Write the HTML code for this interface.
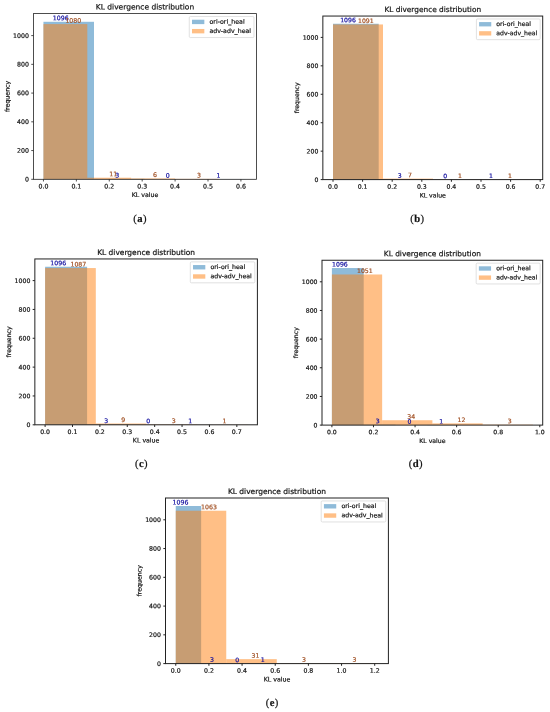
<!DOCTYPE html>
<html><head><meta charset="utf-8"><title>KL divergence distribution</title>
<style>
html,body{margin:0;padding:0;background:#fff}
svg{display:block}
text{font-family:"DejaVu Sans","Liberation Sans",sans-serif;fill:#111;stroke:#111;stroke-width:0.2px}
text.tb{fill:#0f0c9e;stroke:#0f0c9e}
text.to{fill:#a04f22;stroke:#a04f22}
text.cap{font-family:"Liberation Serif","DejaVu Serif",serif;font-size:10.6px;letter-spacing:0.4px;fill:#111;stroke:#111;stroke-width:0.2px}
</style></head><body>
<svg width="550" height="712" viewBox="0 0 550 712">
<rect width="550" height="712" fill="#fff"/>
<g class="pa">
<rect x="43.45" y="21.8" width="50.55" height="157.5" fill="#1f77b4" fill-opacity="0.5"/>
<rect x="94" y="178.87" width="50.55" height="0.43" fill="#1f77b4" fill-opacity="0.5"/>
<rect x="195.1" y="179.16" width="50.55" height="0.14" fill="#1f77b4" fill-opacity="0.5"/>
<rect x="43.45" y="24.1" width="43.85" height="155.2" fill="#ff7f0e" fill-opacity="0.5"/>
<rect x="87.3" y="177.72" width="43.85" height="1.58" fill="#ff7f0e" fill-opacity="0.5"/>
<rect x="131.15" y="178.44" width="43.85" height="0.86" fill="#ff7f0e" fill-opacity="0.5"/>
<rect x="175" y="178.87" width="43.85" height="0.43" fill="#ff7f0e" fill-opacity="0.5"/>
<rect x="33.45" y="13.6" width="223.1" height="165.7" fill="none" stroke="#222" stroke-width="0.8"/>
<line x1="43.45" y1="179.3" x2="43.45" y2="181.49" stroke="#222" stroke-width="0.8"/>
<text x="43.45" y="188.5" transform="rotate(0.04 43.45 188.5)" font-size="6.25" text-anchor="middle">0.0</text>
<line x1="76.36" y1="179.3" x2="76.36" y2="181.49" stroke="#222" stroke-width="0.8"/>
<text x="76.36" y="188.5" transform="rotate(0.04 76.36 188.5)" font-size="6.25" text-anchor="middle">0.1</text>
<line x1="109.27" y1="179.3" x2="109.27" y2="181.49" stroke="#222" stroke-width="0.8"/>
<text x="109.27" y="188.5" transform="rotate(0.04 109.27 188.5)" font-size="6.25" text-anchor="middle">0.2</text>
<line x1="142.18" y1="179.3" x2="142.18" y2="181.49" stroke="#222" stroke-width="0.8"/>
<text x="142.18" y="188.5" transform="rotate(0.04 142.18 188.5)" font-size="6.25" text-anchor="middle">0.3</text>
<line x1="175.09" y1="179.3" x2="175.09" y2="181.49" stroke="#222" stroke-width="0.8"/>
<text x="175.09" y="188.5" transform="rotate(0.04 175.09 188.5)" font-size="6.25" text-anchor="middle">0.4</text>
<line x1="208" y1="179.3" x2="208" y2="181.49" stroke="#222" stroke-width="0.8"/>
<text x="208" y="188.5" transform="rotate(0.04 208 188.5)" font-size="6.25" text-anchor="middle">0.5</text>
<line x1="240.91" y1="179.3" x2="240.91" y2="181.49" stroke="#222" stroke-width="0.8"/>
<text x="240.91" y="188.5" transform="rotate(0.04 240.91 188.5)" font-size="6.25" text-anchor="middle">0.6</text>
<line x1="33.45" y1="179.3" x2="31.26" y2="179.3" stroke="#222" stroke-width="0.8"/>
<text x="28.95" y="181.6" transform="rotate(0.04 28.95 181.6)" font-size="6.25" text-anchor="end">0</text>
<line x1="33.45" y1="150.56" x2="31.26" y2="150.56" stroke="#222" stroke-width="0.8"/>
<text x="28.95" y="152.86" transform="rotate(0.04 28.95 152.86)" font-size="6.25" text-anchor="end">200</text>
<line x1="33.45" y1="121.82" x2="31.26" y2="121.82" stroke="#222" stroke-width="0.8"/>
<text x="28.95" y="124.12" transform="rotate(0.04 28.95 124.12)" font-size="6.25" text-anchor="end">400</text>
<line x1="33.45" y1="93.08" x2="31.26" y2="93.08" stroke="#222" stroke-width="0.8"/>
<text x="28.95" y="95.38" transform="rotate(0.04 28.95 95.38)" font-size="6.25" text-anchor="end">600</text>
<line x1="33.45" y1="64.34" x2="31.26" y2="64.34" stroke="#222" stroke-width="0.8"/>
<text x="28.95" y="66.64" transform="rotate(0.04 28.95 66.64)" font-size="6.25" text-anchor="end">800</text>
<line x1="33.45" y1="35.6" x2="31.26" y2="35.6" stroke="#222" stroke-width="0.8"/>
<text x="28.95" y="37.9" transform="rotate(0.04 28.95 37.9)" font-size="6.25" text-anchor="end">1000</text>
<text x="145" y="197.1" transform="rotate(0.04 145 197.1)" font-size="6.25" text-anchor="middle">KL value</text>
<text transform="translate(9.55,96.45) rotate(-89.96)" font-size="6.25" text-anchor="middle">frequency</text>
<text x="145" y="9.6" transform="rotate(0.04 145 9.6)" font-size="7.5" text-anchor="middle">KL divergence distribution</text>
<text x="68.72" y="20.35" transform="rotate(0.04 68.72 20.35)" font-size="6.25" text-anchor="end" class="tb">1096</text>
<text x="119.27" y="177.42" transform="rotate(0.04 119.27 177.42)" font-size="6.25" text-anchor="end" class="tb">3</text>
<text x="169.82" y="177.85" transform="rotate(0.04 169.82 177.85)" font-size="6.25" text-anchor="end" class="tb">0</text>
<text x="220.38" y="177.71" transform="rotate(0.04 220.38 177.71)" font-size="6.25" text-anchor="end" class="tb">1</text>
<text x="65.38" y="22.65" transform="rotate(0.04 65.38 22.65)" font-size="6.25" class="to">1080</text>
<text x="109.23" y="176.27" transform="rotate(0.04 109.23 176.27)" font-size="6.25" class="to">11</text>
<text x="153.07" y="176.99" transform="rotate(0.04 153.07 176.99)" font-size="6.25" class="to">6</text>
<text x="196.93" y="177.42" transform="rotate(0.04 196.93 177.42)" font-size="6.25" class="to">3</text>
<rect x="189.28" y="16.53" width="64.69" height="21.02" rx="1.12" fill="#fff" fill-opacity="0.8" stroke="#ccc" stroke-width="0.6"/>
<rect x="192.01" y="19.72" width="12.33" height="4.4" fill="#8FBBD9"/>
<rect x="192.01" y="28.96" width="12.33" height="4.4" fill="#FFBF86"/>
<text x="209.5" y="23.7" transform="rotate(0.04 209.5 23.7)" font-size="6.25">ori-ori_heal</text>
<text x="209.5" y="32.99" transform="rotate(0.04 209.5 32.99)" font-size="6.25">adv-adv_heal</text>
<text class="cap" x="140.1" y="222" transform="rotate(0.04 140.1 222)" text-anchor="middle">(<tspan font-weight="bold">a</tspan>)</text>
</g>
<g class="pb">
<rect x="333" y="23.75" width="45.7" height="155.85" fill="#1f77b4" fill-opacity="0.5"/>
<rect x="378.7" y="179.17" width="45.7" height="0.43" fill="#1f77b4" fill-opacity="0.5"/>
<rect x="470.1" y="179.46" width="45.7" height="0.14" fill="#1f77b4" fill-opacity="0.5"/>
<rect x="333" y="24.46" width="50" height="155.14" fill="#ff7f0e" fill-opacity="0.5"/>
<rect x="383" y="178.6" width="50" height="1" fill="#ff7f0e" fill-opacity="0.5"/>
<rect x="433" y="179.46" width="50" height="0.14" fill="#ff7f0e" fill-opacity="0.5"/>
<rect x="483" y="179.46" width="50" height="0.14" fill="#ff7f0e" fill-opacity="0.5"/>
<rect x="322.85" y="16.05" width="219.85" height="163.55" fill="none" stroke="#222" stroke-width="1"/>
<line x1="333" y1="179.6" x2="333" y2="181.75" stroke="#222" stroke-width="1"/>
<text x="333" y="188.8" transform="rotate(0.04 333 188.8)" font-size="6.16" text-anchor="middle">0.0</text>
<line x1="362.6" y1="179.6" x2="362.6" y2="181.75" stroke="#222" stroke-width="1"/>
<text x="362.6" y="188.8" transform="rotate(0.04 362.6 188.8)" font-size="6.16" text-anchor="middle">0.1</text>
<line x1="392.2" y1="179.6" x2="392.2" y2="181.75" stroke="#222" stroke-width="1"/>
<text x="392.2" y="188.8" transform="rotate(0.04 392.2 188.8)" font-size="6.16" text-anchor="middle">0.2</text>
<line x1="421.8" y1="179.6" x2="421.8" y2="181.75" stroke="#222" stroke-width="1"/>
<text x="421.8" y="188.8" transform="rotate(0.04 421.8 188.8)" font-size="6.16" text-anchor="middle">0.3</text>
<line x1="451.4" y1="179.6" x2="451.4" y2="181.75" stroke="#222" stroke-width="1"/>
<text x="451.4" y="188.8" transform="rotate(0.04 451.4 188.8)" font-size="6.16" text-anchor="middle">0.4</text>
<line x1="481" y1="179.6" x2="481" y2="181.75" stroke="#222" stroke-width="1"/>
<text x="481" y="188.8" transform="rotate(0.04 481 188.8)" font-size="6.16" text-anchor="middle">0.5</text>
<line x1="510.6" y1="179.6" x2="510.6" y2="181.75" stroke="#222" stroke-width="1"/>
<text x="510.6" y="188.8" transform="rotate(0.04 510.6 188.8)" font-size="6.16" text-anchor="middle">0.6</text>
<line x1="540.2" y1="179.6" x2="540.2" y2="181.75" stroke="#222" stroke-width="1"/>
<text x="540.2" y="188.8" transform="rotate(0.04 540.2 188.8)" font-size="6.16" text-anchor="middle">0.7</text>
<line x1="322.85" y1="179.6" x2="320.7" y2="179.6" stroke="#222" stroke-width="1"/>
<text x="318.35" y="181.9" transform="rotate(0.04 318.35 181.9)" font-size="6.16" text-anchor="end">0</text>
<line x1="322.85" y1="151.16" x2="320.7" y2="151.16" stroke="#222" stroke-width="1"/>
<text x="318.35" y="153.46" transform="rotate(0.04 318.35 153.46)" font-size="6.16" text-anchor="end">200</text>
<line x1="322.85" y1="122.72" x2="320.7" y2="122.72" stroke="#222" stroke-width="1"/>
<text x="318.35" y="125.02" transform="rotate(0.04 318.35 125.02)" font-size="6.16" text-anchor="end">400</text>
<line x1="322.85" y1="94.28" x2="320.7" y2="94.28" stroke="#222" stroke-width="1"/>
<text x="318.35" y="96.58" transform="rotate(0.04 318.35 96.58)" font-size="6.16" text-anchor="end">600</text>
<line x1="322.85" y1="65.84" x2="320.7" y2="65.84" stroke="#222" stroke-width="1"/>
<text x="318.35" y="68.14" transform="rotate(0.04 318.35 68.14)" font-size="6.16" text-anchor="end">800</text>
<line x1="322.85" y1="37.4" x2="320.7" y2="37.4" stroke="#222" stroke-width="1"/>
<text x="318.35" y="39.7" transform="rotate(0.04 318.35 39.7)" font-size="6.16" text-anchor="end">1000</text>
<text x="432.78" y="197.4" transform="rotate(0.04 432.78 197.4)" font-size="6.16" text-anchor="middle">KL value</text>
<text transform="translate(298.95,97.83) rotate(-89.96)" font-size="6.16" text-anchor="middle">frequency</text>
<text x="432.78" y="12.05" transform="rotate(0.04 432.78 12.05)" font-size="7.39" text-anchor="middle">KL divergence distribution</text>
<text x="355.85" y="22.3" transform="rotate(0.04 355.85 22.3)" font-size="6.16" text-anchor="end" class="tb">1096</text>
<text x="401.55" y="177.72" transform="rotate(0.04 401.55 177.72)" font-size="6.16" text-anchor="end" class="tb">3</text>
<text x="447.25" y="178.15" transform="rotate(0.04 447.25 178.15)" font-size="6.16" text-anchor="end" class="tb">0</text>
<text x="492.95" y="178.01" transform="rotate(0.04 492.95 178.01)" font-size="6.16" text-anchor="end" class="tb">1</text>
<text x="358" y="23.01" transform="rotate(0.04 358 23.01)" font-size="6.16" class="to">1091</text>
<text x="408" y="177.15" transform="rotate(0.04 408 177.15)" font-size="6.16" class="to">7</text>
<text x="458" y="178.01" transform="rotate(0.04 458 178.01)" font-size="6.16" class="to">1</text>
<text x="508" y="178.01" transform="rotate(0.04 508 178.01)" font-size="6.16" class="to">1</text>
<rect x="476.41" y="18.94" width="63.75" height="20.72" rx="1.11" fill="#fff" fill-opacity="0.8" stroke="#ccc" stroke-width="0.59"/>
<rect x="479.1" y="22.08" width="12.15" height="4.33" fill="#8FBBD9"/>
<rect x="479.1" y="31.19" width="12.15" height="4.33" fill="#FFBF86"/>
<text x="496.33" y="26" transform="rotate(0.04 496.33 26)" font-size="6.16">ori-ori_heal</text>
<text x="496.33" y="35.16" transform="rotate(0.04 496.33 35.16)" font-size="6.16">adv-adv_heal</text>
<text class="cap" x="417.3" y="222" transform="rotate(0.04 417.3 222)" text-anchor="middle">(<tspan font-weight="bold">b</tspan>)</text>
</g>
<g class="pc">
<rect x="45.1" y="266.76" width="42" height="158.04" fill="#1f77b4" fill-opacity="0.5"/>
<rect x="87.1" y="424.37" width="42" height="0.43" fill="#1f77b4" fill-opacity="0.5"/>
<rect x="171.1" y="424.66" width="42" height="0.14" fill="#1f77b4" fill-opacity="0.5"/>
<rect x="45.1" y="268.05" width="50.7" height="156.75" fill="#ff7f0e" fill-opacity="0.5"/>
<rect x="95.8" y="423.5" width="50.7" height="1.3" fill="#ff7f0e" fill-opacity="0.5"/>
<rect x="146.5" y="424.37" width="50.7" height="0.43" fill="#ff7f0e" fill-opacity="0.5"/>
<rect x="197.2" y="424.66" width="50.7" height="0.14" fill="#ff7f0e" fill-opacity="0.5"/>
<rect x="34.85" y="258.95" width="222.55" height="165.85" fill="none" stroke="#222" stroke-width="1"/>
<line x1="45.1" y1="424.8" x2="45.1" y2="426.98" stroke="#222" stroke-width="1"/>
<text x="45.1" y="434" transform="rotate(0.04 45.1 434)" font-size="6.23" text-anchor="middle">0.0</text>
<line x1="72.49" y1="424.8" x2="72.49" y2="426.98" stroke="#222" stroke-width="1"/>
<text x="72.49" y="434" transform="rotate(0.04 72.49 434)" font-size="6.23" text-anchor="middle">0.1</text>
<line x1="99.88" y1="424.8" x2="99.88" y2="426.98" stroke="#222" stroke-width="1"/>
<text x="99.88" y="434" transform="rotate(0.04 99.88 434)" font-size="6.23" text-anchor="middle">0.2</text>
<line x1="127.27" y1="424.8" x2="127.27" y2="426.98" stroke="#222" stroke-width="1"/>
<text x="127.27" y="434" transform="rotate(0.04 127.27 434)" font-size="6.23" text-anchor="middle">0.3</text>
<line x1="154.66" y1="424.8" x2="154.66" y2="426.98" stroke="#222" stroke-width="1"/>
<text x="154.66" y="434" transform="rotate(0.04 154.66 434)" font-size="6.23" text-anchor="middle">0.4</text>
<line x1="182.05" y1="424.8" x2="182.05" y2="426.98" stroke="#222" stroke-width="1"/>
<text x="182.05" y="434" transform="rotate(0.04 182.05 434)" font-size="6.23" text-anchor="middle">0.5</text>
<line x1="209.44" y1="424.8" x2="209.44" y2="426.98" stroke="#222" stroke-width="1"/>
<text x="209.44" y="434" transform="rotate(0.04 209.44 434)" font-size="6.23" text-anchor="middle">0.6</text>
<line x1="236.83" y1="424.8" x2="236.83" y2="426.98" stroke="#222" stroke-width="1"/>
<text x="236.83" y="434" transform="rotate(0.04 236.83 434)" font-size="6.23" text-anchor="middle">0.7</text>
<line x1="34.85" y1="424.8" x2="32.67" y2="424.8" stroke="#222" stroke-width="1"/>
<text x="30.35" y="427.1" transform="rotate(0.04 30.35 427.1)" font-size="6.23" text-anchor="end">0</text>
<line x1="34.85" y1="395.96" x2="32.67" y2="395.96" stroke="#222" stroke-width="1"/>
<text x="30.35" y="398.26" transform="rotate(0.04 30.35 398.26)" font-size="6.23" text-anchor="end">200</text>
<line x1="34.85" y1="367.12" x2="32.67" y2="367.12" stroke="#222" stroke-width="1"/>
<text x="30.35" y="369.42" transform="rotate(0.04 30.35 369.42)" font-size="6.23" text-anchor="end">400</text>
<line x1="34.85" y1="338.28" x2="32.67" y2="338.28" stroke="#222" stroke-width="1"/>
<text x="30.35" y="340.58" transform="rotate(0.04 30.35 340.58)" font-size="6.23" text-anchor="end">600</text>
<line x1="34.85" y1="309.44" x2="32.67" y2="309.44" stroke="#222" stroke-width="1"/>
<text x="30.35" y="311.74" transform="rotate(0.04 30.35 311.74)" font-size="6.23" text-anchor="end">800</text>
<line x1="34.85" y1="280.6" x2="32.67" y2="280.6" stroke="#222" stroke-width="1"/>
<text x="30.35" y="282.9" transform="rotate(0.04 30.35 282.9)" font-size="6.23" text-anchor="end">1000</text>
<text x="146.12" y="442.6" transform="rotate(0.04 146.12 442.6)" font-size="6.23" text-anchor="middle">KL value</text>
<text transform="translate(10.95,341.88) rotate(-89.96)" font-size="6.23" text-anchor="middle">frequency</text>
<text x="146.12" y="254.95" transform="rotate(0.04 146.12 254.95)" font-size="7.48" text-anchor="middle">KL divergence distribution</text>
<text x="66.1" y="265.31" transform="rotate(0.04 66.1 265.31)" font-size="6.23" text-anchor="end" class="tb">1096</text>
<text x="108.1" y="422.92" transform="rotate(0.04 108.1 422.92)" font-size="6.23" text-anchor="end" class="tb">3</text>
<text x="150.1" y="423.35" transform="rotate(0.04 150.1 423.35)" font-size="6.23" text-anchor="end" class="tb">0</text>
<text x="192.1" y="423.21" transform="rotate(0.04 192.1 423.21)" font-size="6.23" text-anchor="end" class="tb">1</text>
<text x="70.45" y="266.6" transform="rotate(0.04 70.45 266.6)" font-size="6.23" class="to">1087</text>
<text x="121.15" y="422.05" transform="rotate(0.04 121.15 422.05)" font-size="6.23" class="to">9</text>
<text x="171.85" y="422.92" transform="rotate(0.04 171.85 422.92)" font-size="6.23" class="to">3</text>
<text x="222.55" y="423.21" transform="rotate(0.04 222.55 423.21)" font-size="6.23" class="to">1</text>
<rect x="190.3" y="261.87" width="64.53" height="20.97" rx="1.12" fill="#fff" fill-opacity="0.8" stroke="#ccc" stroke-width="0.6"/>
<rect x="193.02" y="265.05" width="12.3" height="4.39" fill="#8FBBD9"/>
<rect x="193.02" y="274.28" width="12.3" height="4.39" fill="#FFBF86"/>
<text x="210.46" y="269.02" transform="rotate(0.04 210.46 269.02)" font-size="6.23">ori-ori_heal</text>
<text x="210.46" y="278.29" transform="rotate(0.04 210.46 278.29)" font-size="6.23">adv-adv_heal</text>
<text class="cap" x="141.5" y="467" transform="rotate(0.04 141.5 467)" text-anchor="middle">(<tspan font-weight="bold">c</tspan>)</text>
</g>
<g class="pd">
<rect x="331.9" y="268.04" width="31.8" height="157.06" fill="#1f77b4" fill-opacity="0.5"/>
<rect x="363.7" y="424.67" width="31.8" height="0.43" fill="#1f77b4" fill-opacity="0.5"/>
<rect x="427.3" y="424.96" width="31.8" height="0.14" fill="#1f77b4" fill-opacity="0.5"/>
<rect x="331.9" y="274.49" width="50.25" height="150.61" fill="#ff7f0e" fill-opacity="0.5"/>
<rect x="382.15" y="420.23" width="50.25" height="4.87" fill="#ff7f0e" fill-opacity="0.5"/>
<rect x="432.4" y="423.38" width="50.25" height="1.72" fill="#ff7f0e" fill-opacity="0.5"/>
<rect x="482.65" y="424.67" width="50.25" height="0.43" fill="#ff7f0e" fill-opacity="0.5"/>
<rect x="322" y="260.25" width="220.7" height="164.85" fill="none" stroke="#222" stroke-width="1"/>
<line x1="331.9" y1="425.1" x2="331.9" y2="427.26" stroke="#222" stroke-width="1"/>
<text x="331.9" y="434.3" transform="rotate(0.04 331.9 434.3)" font-size="6.18" text-anchor="middle">0.0</text>
<line x1="373.48" y1="425.1" x2="373.48" y2="427.26" stroke="#222" stroke-width="1"/>
<text x="373.48" y="434.3" transform="rotate(0.04 373.48 434.3)" font-size="6.18" text-anchor="middle">0.2</text>
<line x1="415.06" y1="425.1" x2="415.06" y2="427.26" stroke="#222" stroke-width="1"/>
<text x="415.06" y="434.3" transform="rotate(0.04 415.06 434.3)" font-size="6.18" text-anchor="middle">0.4</text>
<line x1="456.64" y1="425.1" x2="456.64" y2="427.26" stroke="#222" stroke-width="1"/>
<text x="456.64" y="434.3" transform="rotate(0.04 456.64 434.3)" font-size="6.18" text-anchor="middle">0.6</text>
<line x1="498.22" y1="425.1" x2="498.22" y2="427.26" stroke="#222" stroke-width="1"/>
<text x="498.22" y="434.3" transform="rotate(0.04 498.22 434.3)" font-size="6.18" text-anchor="middle">0.8</text>
<line x1="539.8" y1="425.1" x2="539.8" y2="427.26" stroke="#222" stroke-width="1"/>
<text x="539.8" y="434.3" transform="rotate(0.04 539.8 434.3)" font-size="6.18" text-anchor="middle">1.0</text>
<line x1="322" y1="425.1" x2="319.84" y2="425.1" stroke="#222" stroke-width="1"/>
<text x="317.5" y="427.4" transform="rotate(0.04 317.5 427.4)" font-size="6.18" text-anchor="end">0</text>
<line x1="322" y1="396.44" x2="319.84" y2="396.44" stroke="#222" stroke-width="1"/>
<text x="317.5" y="398.74" transform="rotate(0.04 317.5 398.74)" font-size="6.18" text-anchor="end">200</text>
<line x1="322" y1="367.78" x2="319.84" y2="367.78" stroke="#222" stroke-width="1"/>
<text x="317.5" y="370.08" transform="rotate(0.04 317.5 370.08)" font-size="6.18" text-anchor="end">400</text>
<line x1="322" y1="339.12" x2="319.84" y2="339.12" stroke="#222" stroke-width="1"/>
<text x="317.5" y="341.42" transform="rotate(0.04 317.5 341.42)" font-size="6.18" text-anchor="end">600</text>
<line x1="322" y1="310.46" x2="319.84" y2="310.46" stroke="#222" stroke-width="1"/>
<text x="317.5" y="312.76" transform="rotate(0.04 317.5 312.76)" font-size="6.18" text-anchor="end">800</text>
<line x1="322" y1="281.8" x2="319.84" y2="281.8" stroke="#222" stroke-width="1"/>
<text x="317.5" y="284.1" transform="rotate(0.04 317.5 284.1)" font-size="6.18" text-anchor="end">1000</text>
<text x="432.35" y="442.9" transform="rotate(0.04 432.35 442.9)" font-size="6.18" text-anchor="middle">KL value</text>
<text transform="translate(298.1,342.68) rotate(-89.96)" font-size="6.18" text-anchor="middle">frequency</text>
<text x="432.35" y="256.25" transform="rotate(0.04 432.35 256.25)" font-size="7.42" text-anchor="middle">KL divergence distribution</text>
<text x="347.8" y="266.59" transform="rotate(0.04 347.8 266.59)" font-size="6.18" text-anchor="end" class="tb">1096</text>
<text x="379.6" y="423.22" transform="rotate(0.04 379.6 423.22)" font-size="6.18" text-anchor="end" class="tb">3</text>
<text x="411.4" y="423.65" transform="rotate(0.04 411.4 423.65)" font-size="6.18" text-anchor="end" class="tb">0</text>
<text x="443.2" y="423.51" transform="rotate(0.04 443.2 423.51)" font-size="6.18" text-anchor="end" class="tb">1</text>
<text x="357.02" y="273.04" transform="rotate(0.04 357.02 273.04)" font-size="6.18" class="to">1051</text>
<text x="407.27" y="418.78" transform="rotate(0.04 407.27 418.78)" font-size="6.18" class="to">34</text>
<text x="457.52" y="421.93" transform="rotate(0.04 457.52 421.93)" font-size="6.18" class="to">12</text>
<text x="507.77" y="423.22" transform="rotate(0.04 507.77 423.22)" font-size="6.18" class="to">3</text>
<rect x="476.16" y="263.15" width="63.99" height="20.8" rx="1.11" fill="#fff" fill-opacity="0.8" stroke="#ccc" stroke-width="0.59"/>
<rect x="478.86" y="266.3" width="12.2" height="4.35" fill="#8FBBD9"/>
<rect x="478.86" y="275.45" width="12.2" height="4.35" fill="#FFBF86"/>
<text x="496.15" y="270.24" transform="rotate(0.04 496.15 270.24)" font-size="6.18">ori-ori_heal</text>
<text x="496.15" y="279.43" transform="rotate(0.04 496.15 279.43)" font-size="6.18">adv-adv_heal</text>
<text class="cap" x="415.8" y="467" transform="rotate(0.04 415.8 467)" text-anchor="middle">(<tspan font-weight="bold">d</tspan>)</text>
</g>
<g class="pe">
<rect x="175.75" y="506" width="25.4" height="157.6" fill="#1f77b4" fill-opacity="0.5"/>
<rect x="201.15" y="663.17" width="25.4" height="0.43" fill="#1f77b4" fill-opacity="0.5"/>
<rect x="251.95" y="663.46" width="25.4" height="0.14" fill="#1f77b4" fill-opacity="0.5"/>
<rect x="175.75" y="510.74" width="50.5" height="152.86" fill="#ff7f0e" fill-opacity="0.5"/>
<rect x="226.25" y="659.14" width="50.5" height="4.46" fill="#ff7f0e" fill-opacity="0.5"/>
<rect x="276.75" y="663.17" width="50.5" height="0.43" fill="#ff7f0e" fill-opacity="0.5"/>
<rect x="327.25" y="663.17" width="50.5" height="0.43" fill="#ff7f0e" fill-opacity="0.5"/>
<rect x="165.5" y="498" width="222.9" height="165.6" fill="none" stroke="#222" stroke-width="1"/>
<line x1="175.75" y1="663.6" x2="175.75" y2="665.78" stroke="#222" stroke-width="1"/>
<text x="175.75" y="672.8" transform="rotate(0.04 175.75 672.8)" font-size="6.24" text-anchor="middle">0.0</text>
<line x1="208.91" y1="663.6" x2="208.91" y2="665.78" stroke="#222" stroke-width="1"/>
<text x="208.91" y="672.8" transform="rotate(0.04 208.91 672.8)" font-size="6.24" text-anchor="middle">0.2</text>
<line x1="242.07" y1="663.6" x2="242.07" y2="665.78" stroke="#222" stroke-width="1"/>
<text x="242.07" y="672.8" transform="rotate(0.04 242.07 672.8)" font-size="6.24" text-anchor="middle">0.4</text>
<line x1="275.23" y1="663.6" x2="275.23" y2="665.78" stroke="#222" stroke-width="1"/>
<text x="275.23" y="672.8" transform="rotate(0.04 275.23 672.8)" font-size="6.24" text-anchor="middle">0.6</text>
<line x1="308.39" y1="663.6" x2="308.39" y2="665.78" stroke="#222" stroke-width="1"/>
<text x="308.39" y="672.8" transform="rotate(0.04 308.39 672.8)" font-size="6.24" text-anchor="middle">0.8</text>
<line x1="341.55" y1="663.6" x2="341.55" y2="665.78" stroke="#222" stroke-width="1"/>
<text x="341.55" y="672.8" transform="rotate(0.04 341.55 672.8)" font-size="6.24" text-anchor="middle">1.0</text>
<line x1="374.71" y1="663.6" x2="374.71" y2="665.78" stroke="#222" stroke-width="1"/>
<text x="374.71" y="672.8" transform="rotate(0.04 374.71 672.8)" font-size="6.24" text-anchor="middle">1.2</text>
<line x1="165.5" y1="663.6" x2="163.32" y2="663.6" stroke="#222" stroke-width="1"/>
<text x="161" y="665.9" transform="rotate(0.04 161 665.9)" font-size="6.24" text-anchor="end">0</text>
<line x1="165.5" y1="634.84" x2="163.32" y2="634.84" stroke="#222" stroke-width="1"/>
<text x="161" y="637.14" transform="rotate(0.04 161 637.14)" font-size="6.24" text-anchor="end">200</text>
<line x1="165.5" y1="606.08" x2="163.32" y2="606.08" stroke="#222" stroke-width="1"/>
<text x="161" y="608.38" transform="rotate(0.04 161 608.38)" font-size="6.24" text-anchor="end">400</text>
<line x1="165.5" y1="577.32" x2="163.32" y2="577.32" stroke="#222" stroke-width="1"/>
<text x="161" y="579.62" transform="rotate(0.04 161 579.62)" font-size="6.24" text-anchor="end">600</text>
<line x1="165.5" y1="548.56" x2="163.32" y2="548.56" stroke="#222" stroke-width="1"/>
<text x="161" y="550.86" transform="rotate(0.04 161 550.86)" font-size="6.24" text-anchor="end">800</text>
<line x1="165.5" y1="519.8" x2="163.32" y2="519.8" stroke="#222" stroke-width="1"/>
<text x="161" y="522.1" transform="rotate(0.04 161 522.1)" font-size="6.24" text-anchor="end">1000</text>
<text x="276.95" y="681.4" transform="rotate(0.04 276.95 681.4)" font-size="6.24" text-anchor="middle">KL value</text>
<text transform="translate(141.6,580.8) rotate(-89.96)" font-size="6.24" text-anchor="middle">frequency</text>
<text x="276.95" y="494" transform="rotate(0.04 276.95 494)" font-size="7.49" text-anchor="middle">KL divergence distribution</text>
<text x="188.45" y="504.55" transform="rotate(0.04 188.45 504.55)" font-size="6.24" text-anchor="end" class="tb">1096</text>
<text x="213.85" y="661.72" transform="rotate(0.04 213.85 661.72)" font-size="6.24" text-anchor="end" class="tb">3</text>
<text x="239.25" y="662.15" transform="rotate(0.04 239.25 662.15)" font-size="6.24" text-anchor="end" class="tb">0</text>
<text x="264.65" y="662.01" transform="rotate(0.04 264.65 662.01)" font-size="6.24" text-anchor="end" class="tb">1</text>
<text x="201" y="509.29" transform="rotate(0.04 201 509.29)" font-size="6.24" class="to">1063</text>
<text x="251.5" y="657.69" transform="rotate(0.04 251.5 657.69)" font-size="6.24" class="to">31</text>
<text x="302" y="661.72" transform="rotate(0.04 302 661.72)" font-size="6.24" class="to">3</text>
<text x="352.5" y="661.72" transform="rotate(0.04 352.5 661.72)" font-size="6.24" class="to">3</text>
<rect x="321.19" y="500.93" width="64.63" height="21.01" rx="1.12" fill="#fff" fill-opacity="0.8" stroke="#ccc" stroke-width="0.6"/>
<rect x="323.92" y="504.11" width="12.32" height="4.39" fill="#8FBBD9"/>
<rect x="323.92" y="513.35" width="12.32" height="4.39" fill="#FFBF86"/>
<text x="341.39" y="508.09" transform="rotate(0.04 341.39 508.09)" font-size="6.24">ori-ori_heal</text>
<text x="341.39" y="517.37" transform="rotate(0.04 341.39 517.37)" font-size="6.24">adv-adv_heal</text>
<text class="cap" x="272.2" y="706" transform="rotate(0.04 272.2 706)" text-anchor="middle">(<tspan font-weight="bold">e</tspan>)</text>
</g>
</svg>
</body></html>
